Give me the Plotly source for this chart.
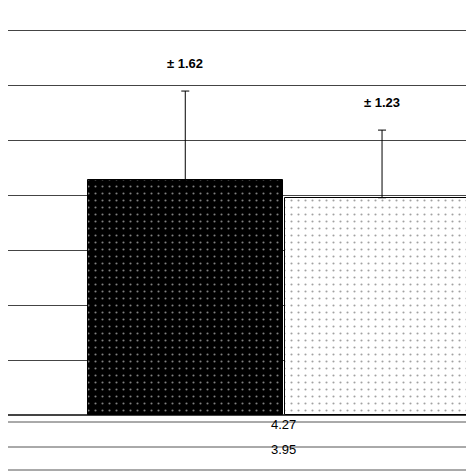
import plotly.graph_objects as go

groups = ["A", "B"]
means = [4.27, 3.95]
errors = [1.62, 1.23]
table_rows = ["4.27", "3.95"]

H = 474.0
OFF = 8  # page body margin shifts the figure
fig = go.Figure()

fig.add_trace(go.Bar(
    x=[0, 1], y=means, width=0.99,
    marker=dict(color=["black", "white"],
                line=dict(color="black", width=1),
                pattern=dict(shape=".", fgcolor=["white", "black"],
                             bgcolor=["black", "white"], size=7, solidity=0.07)),
    error_y=dict(type="data", symmetric=False, array=errors, arrayminus=[0, 0],
                 color="black", thickness=1, width=4),
    showlegend=False,
))

for i, (m, e) in enumerate(zip(means, errors)):
    fig.add_annotation(x=i, y=m + e, text=f"<b>± {e:.2f}</b>", showarrow=False,
                       yshift=28, font=dict(size=13, color="black"))

# table under the chart
for px in [422, 447, 470]:
    fig.add_shape(type="line", xref="paper", yref="paper", x0=0, x1=1,
                  y0=1 - (px - OFF) / H, y1=1 - (px - OFF) / H,
                  line=dict(color="#555", width=1))
for txt, px in zip(table_rows, [434, 459]):
    fig.add_annotation(xref="paper", yref="paper", x=(283 - OFF) / H, y=1 - (px - OFF) / H,
                       text=txt, showarrow=False, font=dict(size=13, color="black"))

fig.update_layout(
    width=474, height=474, margin=dict(l=0, r=0, t=0, b=0),
    plot_bgcolor="white", paper_bgcolor="white", bargap=0,
    font=dict(family="Liberation Sans, Arial"),
    xaxis=dict(range=[-0.901, 1.508], showticklabels=False, showgrid=False,
               zeroline=False, showline=False),
    yaxis=dict(domain=[1 - (415 - OFF) / H, 1], range=[0, (415 - OFF) / 55], dtick=1,
               showticklabels=False, showgrid=True, gridcolor="#444", gridwidth=1,
               zeroline=True, zerolinecolor="#444", showline=False),
)

fig.write_html("out.html")
